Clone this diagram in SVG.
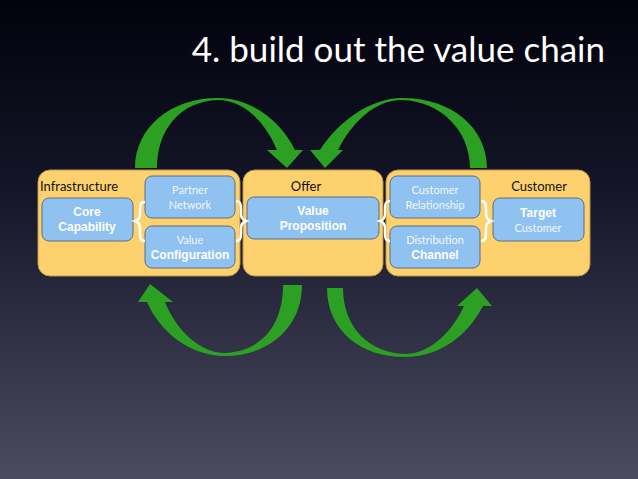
<svg xmlns="http://www.w3.org/2000/svg" width="638" height="479" viewBox="0 0 638 479">
<defs>
<linearGradient id="bg" x1="0" y1="0" x2="0" y2="1">
<stop offset="0" stop-color="#02020c"/>
<stop offset="0.4" stop-color="#141628"/>
<stop offset="1" stop-color="#4c4b60"/>
</linearGradient>
</defs>
<style>
.panel{fill:#fcd16e;stroke:#b8964a;stroke-width:1}
.box{fill:#8fc2f0;stroke:#5d6f80;stroke-width:1}
.hd{font-family:Lato,"Liberation Sans",sans-serif;font-size:13px;fill:#111}
.b{font-family:"Liberation Sans",sans-serif;font-size:12px;font-weight:bold;fill:#fff;text-anchor:middle}
.n{font-family:Lato,"Liberation Sans",sans-serif;font-size:11px;fill:#f4f6fa;text-anchor:middle}
.arr{fill:#2ba022}
.br{fill:none;stroke:#fff;stroke-width:2.5}
</style>
<rect width="638" height="479" fill="url(#bg)"/>
<text x="605" y="62" text-anchor="end" font-family="Lato,'Liberation Sans',sans-serif" font-size="35" fill="#fff">4. build out the value chain</text>

<g id="infrastructure">
<rect class="panel" x="38" y="170" width="202" height="106" rx="12"/>
<text class="hd" x="40" y="191">Infrastructure</text>
</g>
<g id="offer">
<rect class="panel" x="243" y="170" width="140" height="106" rx="12"/>
<text class="hd" x="306" y="191" text-anchor="middle">Offer</text>
</g>
<g id="customer">
<rect class="panel" x="386" y="170" width="204" height="106" rx="12"/>
<text class="hd" x="539" y="191" text-anchor="middle">Customer</text>
</g>
<g id="core">
<rect class="box" x="42" y="198" width="91" height="43" rx="7"/>
<text class="b" x="87" y="216">Core</text><text class="b" x="87" y="231">Capability</text>
</g>
<g id="partner">
<rect class="box" x="145" y="176" width="90" height="42" rx="7"/>
<text class="n" x="190" y="194">Partner</text><text class="n" x="190" y="209">Network</text>
</g>
<g id="config">
<rect class="box" x="145" y="226" width="90" height="42" rx="7"/>
<text class="n" x="190" y="244">Value</text><text class="b" x="190" y="259">Configuration</text>
</g>
<g id="proposition">
<rect class="box" x="247" y="197" width="132" height="42" rx="7"/>
<text class="b" x="313" y="215">Value</text><text class="b" x="313" y="230">Proposition</text>
</g>
<g id="relationship">
<rect class="box" x="390" y="176" width="90" height="42" rx="7"/>
<text class="n" x="435" y="194">Customer</text><text class="n" x="435" y="209">Relationship</text>
</g>
<g id="channel">
<rect class="box" x="390" y="226" width="90" height="42" rx="7"/>
<text class="n" x="435" y="244">Distribution</text><text class="b" x="435" y="259">Channel</text>
</g>
<g id="target">
<rect class="box" x="493" y="198" width="91" height="43" rx="7"/>
<text class="b" x="538" y="217">Target</text><text class="n" x="538" y="232">Customer</text>
</g>

<g id="connectors">
<path class="br" d="M145,202 C140,202 140,205 140,212 L140,214 C140,218 138,220 135,221 C138,222 140,224 140,228 L140,233 C140,239 141,241 145,241"/>
<path class="br" d="M236,201 C240,201 241,203 241,210 L241,214 C241,218 243,220 246,221 C243,222 241,224 241,228 L241,233 C241,239 240,241 236,241"/>
<path class="br" d="M390,201 C386,201 385,203 385,210 L385,214 C385,218 383,220 380,221 C383,222 385,224 385,228 L385,233 C385,239 386,241 390,241"/>
<path class="br" d="M481,201 C485,201 486,203 486,210 L486,214 C486,218 488,220 491,221 C488,222 486,224 486,228 L486,233 C486,239 485,241 481,241"/>
<path class="arr" d="M135,168 C135,128 170,98 218,98 C252,98 282,122 295,150 L303,150 L287,168 L267,150 L277,150 C266,123 244,100 218,100 C180,101 157,130 157,168 Z"/>
<path class="arr" d="M487,168 C487,128 452,98 402,98 C370,98 338,122 320,150 L310,150 L325,168 L343,150 L338,150 C352,123 374,100 402,100 C440,101 470,130 470,168 Z"/>
<path class="arr" d="M302,285 C302,328 268,356 225,356 C190,356 160,332 147,302 L138,302 L150,284 L173,302 L165,302 C176,330 200,353 225,353 C262,351 283,325 283,285 Z"/>
<path class="arr" d="M327,288 C327,330 360,357 405,357 C440,357 468,335 483,306 L492,306 L477,288 L457,306 L464,306 C452,332 430,354 405,354 C370,353 343,328 343,288 Z"/>
</g>
</svg>
